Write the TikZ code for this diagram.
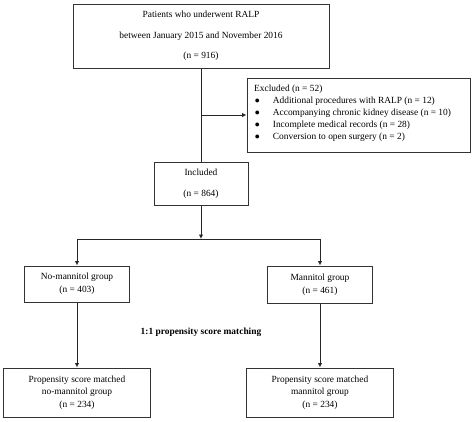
\documentclass[tikz,border=0pt]{standalone}
\usepackage{fontspec}
\setmainfont{Liberation Serif}
\usetikzlibrary{arrows.meta}
\begin{document}
\begin{tikzpicture}[x=1pt,y=1pt,
  box/.style={draw=black!80,line width=1pt,rectangle,inner sep=0pt,align=center},
  arr/.style={line width=1pt,draw=black!85,-{Latex[length=4.5pt,width=4.5pt]}},
  ln/.style={line width=1pt,draw=black!85},
  txt/.style={font=\fontsize{9.4}{11}\selectfont}]
\useasboundingbox (0,0) rectangle (474,-421);
\node[box,minimum width=256,minimum height=64,font=\fontsize{9.4}{20.5}\selectfont] (top) at (201,-36)
  {Patients who underwent RALP\\between January 2015 and November 2016\\(n = 916)};
\node[box,minimum width=223,minimum height=74] (excl) at (358.5,-115) {};
\node[anchor=north west,inner sep=0pt,align=left,font=\fontsize{9.4}{12}\selectfont] (excltxt) at (254,-84.5)
  {Excluded (n = 52)\\
   \makebox[18.7pt][l]{\hspace{0.5pt}\fontsize{9}{12}\selectfont ●}Additional procedures with RALP (n = 12)\\
   \makebox[18.7pt][l]{\hspace{0.5pt}\fontsize{9}{12}\selectfont ●}Accompanying chronic kidney disease (n = 10)\\
   \makebox[18.7pt][l]{\hspace{0.5pt}\fontsize{9}{12}\selectfont ●}Incomplete medical records (n = 28)\\
   \makebox[18.7pt][l]{\hspace{0.5pt}\fontsize{9}{12}\selectfont ●}Conversion to open surgery (n = 2)};
\node[box,minimum width=94,minimum height=43,font=\fontsize{9.4}{21}\selectfont] (incl) at (201,-183.5)
  {Included\\(n = 864)};
\node[box,minimum width=105,minimum height=36,font=\fontsize{9.4}{13}\selectfont] (nomann) at (77,-284)
  {No-mannitol group\\(n = 403)};
\node[box,minimum width=105,minimum height=37,font=\fontsize{9.4}{13}\selectfont] (mann) at (320,-284.5)
  {Mannitol group\\(n = 461)};
\node[box,minimum width=147,minimum height=49,font=\fontsize{9.4}{12.5}\selectfont] (pl) at (77,-392.5)
  {Propensity score matched\\no-mannitol group\\(n = 234)};
\node[box,minimum width=147,minimum height=49,font=\fontsize{9.4}{12.5}\selectfont] (pr) at (320,-392.5)
  {Propensity score matched\\mannitol group\\(n = 234)};
\node[font=\fontsize{9.4}{11}\selectfont\bfseries] (psm) at (201,-332) {1:1 propensity score matching};
\coordinate (j) at (201,-239);
\draw[ln] (top.south) -- (incl.north);
\draw[arr] (top.south |- excl.west) -- (excl.west);
\draw[arr] (incl.south) -- (j);
\draw[arr] (j) -| (nomann.north);
\draw[arr] (j) -| (mann.north);
\draw[arr] (nomann.south) -- (pl.north);
\draw[arr] (mann.south) -- (pr.north);
\end{tikzpicture}
\end{document}
